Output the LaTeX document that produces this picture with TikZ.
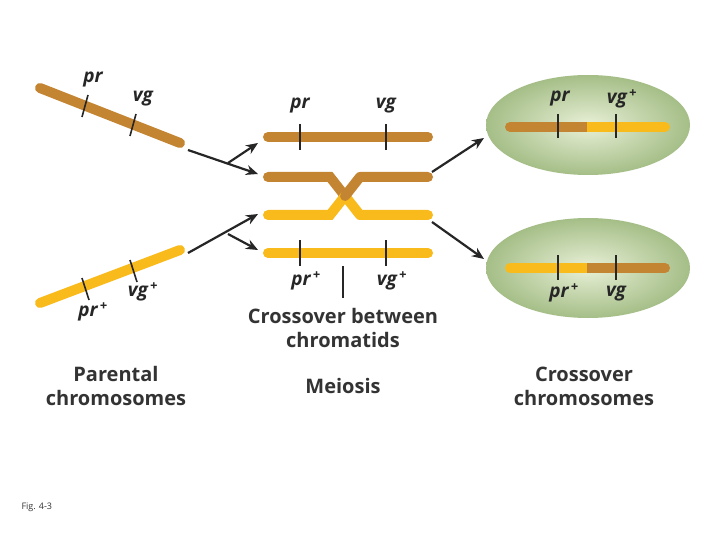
\documentclass[tikz,border=0pt]{standalone}
\usepackage{fontspec}
\setmainfont{Open Sans}
\usetikzlibrary{arrows.meta}
\begin{document}
\begin{tikzpicture}[x=1pt,y=-1pt,
  brn/.style={line width=10pt,line cap=round,draw={rgb,255:red,196;green,133;blue,51}},
  yel/.style={line width=10pt,line cap=round,draw={rgb,255:red,249;green,186;blue,27}},
  tick/.style={line width=1.6pt,draw=black!85},
  lab/.style={font=\fontsize{19}{19}\selectfont\bfseries\itshape,text=black!85},
  capt/.style={font=\fontsize{20}{24}\selectfont\bfseries,text=black!80,align=center},
  arr/.style={line width=2.2pt,draw=black!85,-{Stealth[length=12pt,width=10pt]}}]
\useasboundingbox[fill=white] (0,0) rectangle (720,540);
% left chromosomes
\draw[brn] (40,88) coordinate (b1) -- (180,143) coordinate (b2);
\draw[tick] (88,95)--(82,117); \draw[tick] (136,114)--(130,136);
\node[lab] (lpr) at (93,80) {pr}; \node[lab] (lvg) at (143,99) {vg};
\draw[yel] (40,303) -- (180,250);
\draw[tick] (82,278)--(89,300); \draw[tick] (130,260)--(137,282);
\node[lab] (lprp) at (93,312) {pr\textsuperscript{\,+}}; \node[lab] (lvgp) at (143,292) {vg\textsuperscript{\,+}};
% arrows left
\coordinate (a1) at (188,150); \coordinate (f1) at (228,163);
\draw[arr] (a1) -- (258,174); \draw[arr] (f1) -- (258,143);
\coordinate (a2) at (188,253); \coordinate (f2) at (228,234);
\draw[arr] (a2) -- (258,214); \draw[arr] (f2) -- (258,250);
% middle
\draw[brn] (268,137) -- (428,137);
\draw[line width=10pt,line cap=round,draw={rgb,255:red,196;green,133;blue,51}] (268,177)--(330,177)--(345,196);
\draw[line width=10pt,line cap=round,draw={rgb,255:red,249;green,186;blue,27}] (268,215)--(330,215)--(345,196);
\draw[line width=10pt,line cap=round,line join=round,draw={rgb,255:red,249;green,186;blue,27}] (345,196)--(360,215)--(428,215);
\draw[line width=10pt,line cap=round,line join=round,draw={rgb,255:red,196;green,133;blue,51}] (345,196)--(360,177)--(428,177);
\draw[yel] (268,253) -- (428,253);
\draw[tick] (300,124)--(300,150); \draw[tick] (386,124)--(386,150);
\draw[tick] (300,240)--(300,266); \draw[tick] (386,240)--(386,266);
\node[lab] (mpr) at (300,106) {pr}; \node[lab] (mvg) at (386,106) {vg};
\node[lab] (mprp) at (306,281) {pr\textsuperscript{\,+}}; \node[lab] (mvgp) at (392,281) {vg\textsuperscript{\,+}};
\draw[tick] (343,266)--(343,298);
\node[capt] (cb) at (343,328) {Crossover between\\chromatids};
% right arrows
\draw[arr] (432,172) -- (484,138);
\draw[arr] (432,222) -- (484,259);
% ellipses
\foreach \yy in {125,268}{
  \shade[inner color={rgb,255:red,232;green,240;blue,215},outer color={rgb,255:red,165;green,190;blue,135}] (588,\yy) ellipse (102 and 50);
}
\draw[line width=10pt,line cap=round,draw={rgb,255:red,196;green,133;blue,51}] (510,127)--(587,127);
\draw[line width=10pt,line cap=round,draw={rgb,255:red,249;green,186;blue,27}] (587,127)--(665,127);
\draw[line width=10pt,draw={rgb,255:red,196;green,133;blue,51}] (512,127)--(587,127);
\draw[tick] (558,114)--(558,138); \draw[tick] (616,114)--(616,138);
\node[lab] (rpr) at (560,99) {pr}; \node[lab] (rvgp) at (622,99) {vg\textsuperscript{\,+}};
\draw[line width=10pt,line cap=round,draw={rgb,255:red,249;green,186;blue,27}] (510,268)--(587,268);
\draw[line width=10pt,line cap=round,draw={rgb,255:red,196;green,133;blue,51}] (587,268)--(665,268);
\draw[line width=10pt,draw={rgb,255:red,249;green,186;blue,27}] (512,268)--(587,268);
\draw[tick] (558,255)--(558,280); \draw[tick] (616,255)--(616,280);
\node[lab] (rprp) at (564,293) {pr\textsuperscript{\,+}}; \node[lab] (rvg) at (616,293) {vg};
% captions
\node[capt] (pc) at (116,386) {Parental\\chromosomes};
\node[capt] (mc) at (343,386) {Meiosis};
\node[capt] (cc) at (584,386) {Crossover\\chromosomes};
\node[font=\fontsize{9}{9}\selectfont,anchor=west,text=black!80] (fig) at (18,507) {Fig. 4-3};
\end{tikzpicture}
\end{document}
